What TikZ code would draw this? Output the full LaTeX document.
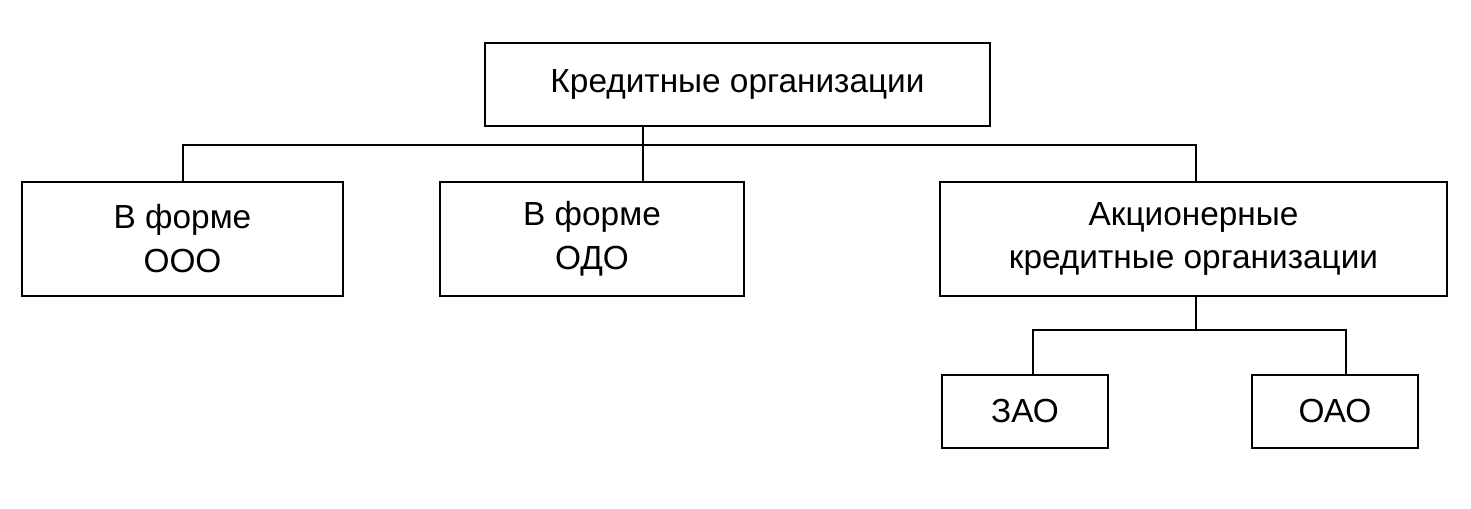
\documentclass[tikz,border=0pt]{standalone}
\usepackage{fontspec}
\setmainfont{Liberation Sans}
\begin{document}
\begin{tikzpicture}[x=0.02cm,y=-0.02cm,
  box/.style={draw,line width=1.5pt,inner sep=0pt,align=center,font=\fontsize{19}{25}\selectfont},
  conn/.style={line width=1.3pt}]
\useasboundingbox (0,0) rectangle (1471,509);
\node[box,minimum width=505*0.02cm,minimum height=83*0.02cm] (top) at (737.5,84.5) {Кредитные организации};
\node[box,minimum width=321*0.02cm,minimum height=114*0.02cm] (ooo) at (182.5,239) {В форме\\ООО};
\node[box,minimum width=304*0.02cm,minimum height=114*0.02cm] (odo) at (592,239) {В форме\\ОДО};
\node[box,minimum width=507*0.02cm,minimum height=114*0.02cm] (ako) at (1193.5,239) {Акционерные\\кредитные организации};
\node[box,minimum width=166*0.02cm,minimum height=73*0.02cm] (zao) at (1025,411.5) {ЗАО};
\node[box,minimum width=166*0.02cm,minimum height=73*0.02cm] (oao) at (1335,411.5) {ОАО};
\coordinate (j1) at (643,145);
\draw[conn] (top.south -| j1) -- (odo.north -| j1);
\draw[conn] (ooo.north -| 183,0) -- (183,145) -- (1196,145) -- (ako.north -| 1196,0);
\draw[conn] (ako.south -| 1196,0) -- (1196,330);
\draw[conn] (zao.north -| 1033,0) -- (1033,330) -- (1346,330) -- (oao.north -| 1346,0);
\end{tikzpicture}
\end{document}
